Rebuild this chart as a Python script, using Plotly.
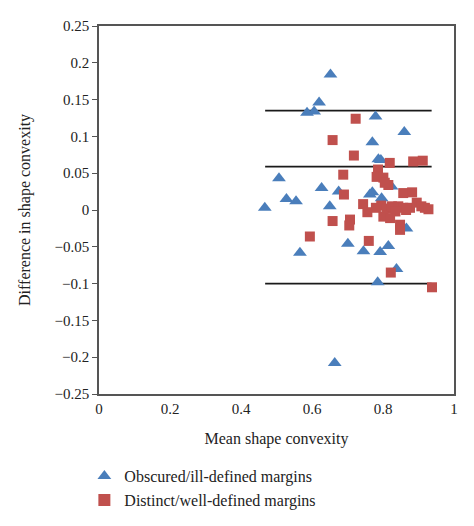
import plotly.graph_objects as go

# Obscured/ill-defined margins (mean, difference)
obscured_x = [0.652, 0.620, 0.606, 0.586, 0.779, 0.860, 0.770, 0.787, 0.794, 0.507,
              0.627, 0.675, 0.528, 0.555, 0.467, 0.650, 0.763, 0.770, 0.796, 0.824,
              0.866, 0.701, 0.566, 0.745, 0.792, 0.815, 0.838, 0.785, 0.664]
obscured_y = [0.184, 0.146, 0.134, 0.132, 0.127, 0.106, 0.092, 0.069, 0.068, 0.043,
              0.030, 0.025, 0.015, 0.012, 0.003, 0.005, 0.021, 0.024, 0.016, 0.032,
              -0.025, -0.046, -0.058, -0.056, -0.057, -0.049, -0.080, -0.098, -0.208]

# Distinct/well-defined margins
distinct_x = [0.723, 0.658, 0.718, 0.819, 0.885, 0.912, 0.786, 0.688, 0.782, 0.801,
              0.815, 0.805, 0.690, 0.857, 0.882, 0.744, 0.756,
              0.795, 0.810, 0.825, 0.843, 0.857, 0.876, 0.895, 0.908, 0.918, 0.928,
              0.835, 0.865, 0.780,
              0.801, 0.820, 0.848, 0.848, 0.658, 0.707, 0.705, 0.594, 0.760, 0.822, 0.938]
distinct_y = [0.124, 0.095, 0.074, 0.064, 0.066, 0.067, 0.055, 0.048, 0.045, 0.044,
              0.034, 0.037, 0.021, 0.023, 0.024, 0.008, -0.003,
              0.006, 0.002, 0.005, 0.005, 0.003, 0.003, 0.010, 0.005, 0.003, 0.001,
              -0.002, 0.000, 0.003,
              -0.009, -0.011, -0.020, -0.027, -0.015, -0.013, -0.021, -0.036, -0.042, -0.085, -0.105]

# Limits of agreement and mean difference
limit_values = [0.135, 0.059, -0.100]
limit_x_range = [0.468, 0.937]

x_ticks = [0, 0.2, 0.4, 0.6, 0.8, 1]
x_tick_labels = ["0", "0.2", "0.4", "0.6", "0.8", "1"]
y_ticks = [0.25, 0.2, 0.15, 0.1, 0.05, 0, -0.05, -0.1, -0.15, -0.2, -0.25]
y_tick_labels = ["0.25", "0.2", "0.15", "0.1", "0.05", "0", "\u22120.05", "\u22120.1",
                 "\u22120.15", "\u22120.2", "\u22120.25"]

FONT = "Liberation Serif, Times New Roman, serif"
BLUE = "#4A7EBB"
RED = "#C0504D"

fig = go.Figure()

for v in limit_values:
    fig.add_trace(go.Scatter(x=limit_x_range, y=[v, v], mode="lines",
                             line=dict(color="#1a1a1a", width=1.6),
                             showlegend=False, hoverinfo="skip"))

fig.add_trace(go.Scatter(x=obscured_x, y=obscured_y, mode="markers",
                         name="Obscured/ill-defined margins",
                         marker=dict(symbol="triangle-up", size=12, color=BLUE,
                                     line=dict(width=0))))
fig.add_trace(go.Scatter(x=distinct_x, y=distinct_y, mode="markers",
                         name="Distinct/well-defined margins",
                         marker=dict(symbol="square", size=10, color=RED,
                                     line=dict(width=0))))

fig.add_annotation(text="Difference in shape convexity", xref="paper", yref="paper",
                   x=-0.2085, y=0.5, xanchor="center", yanchor="middle",
                   textangle=-90, showarrow=False,
                   font=dict(family=FONT, size=16, color="#222222"))

fig.update_layout(
    width=474, height=526,
    margin=dict(l=99, r=20, t=26, b=132, autoexpand=False),
    paper_bgcolor="white", plot_bgcolor="white",
    font=dict(family=FONT, size=14, color="#222222"),
    showlegend=True,
    legend=dict(xref="container", yref="container", x=0.178, y=0.127,
                xanchor="left", yanchor="top",
                font=dict(family=FONT, size=16, color="#222222"),
                tracegroupgap=0, itemsizing="constant", bgcolor="rgba(0,0,0,0)"),
    xaxis=dict(range=[0, 1], tickvals=x_ticks, ticktext=x_tick_labels,
               showgrid=False, zeroline=False, showline=True, mirror=True,
               linecolor="#555555", linewidth=1.5, ticks="",
               tickfont=dict(family=FONT, size=15),
               title=dict(text="Mean shape convexity", font=dict(family=FONT, size=16),
                          standoff=17)),
    yaxis=dict(range=[-0.25, 0.25], tickvals=y_ticks, ticktext=y_tick_labels,
               showgrid=False, zeroline=False, showline=True, mirror=True,
               linecolor="#555555", linewidth=1.5, ticks="outside", ticklen=5,
               tickcolor="#555555", tickfont=dict(family=FONT, size=15)),
)

fig.write_html("out.html")
